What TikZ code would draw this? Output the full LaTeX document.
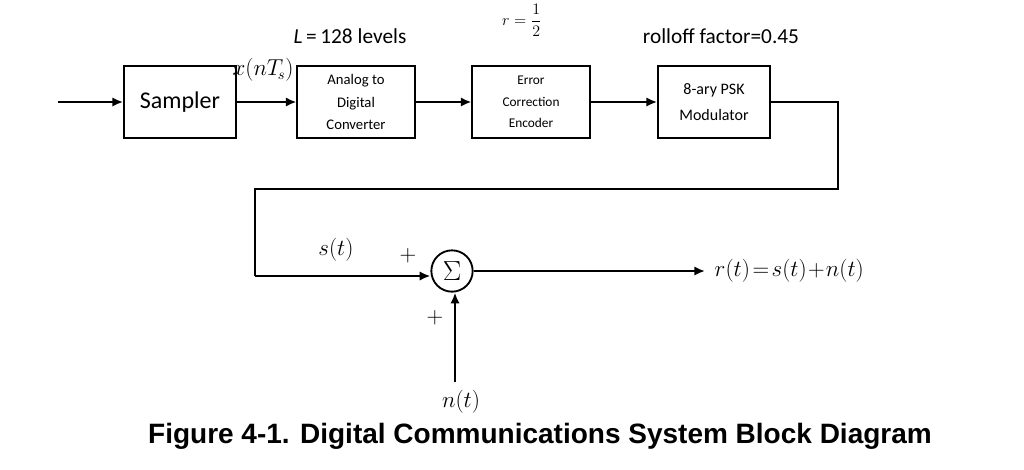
\documentclass[tikz,border=0pt]{standalone}
\usepackage{fontspec}
\setmainfont{Carlito}
\newfontfamily\arial{Liberation Sans}
\usetikzlibrary{arrows.meta}
\begin{document}
\begin{tikzpicture}[x=0.75pt,y=-0.75pt,
  blk/.style={draw,line width=1.3pt,inner sep=0pt},
  ln/.style={line width=1.6pt},
  ar/.style={ln,-{Latex[length=8pt,width=7pt]}}]
\useasboundingbox (0,0) rectangle (1024,469);
\node[blk,minimum width=84pt,minimum height=54pt] (smp) at (180,102) {\fontsize{18}{20}\selectfont Sampler};
\node[blk,minimum width=88pt,minimum height=54pt,align=center,font=\fontsize{11}{17}\selectfont] (adc) at (356,102) {Analog to\\Digital\\Converter};
\node[blk,minimum width=88pt,minimum height=54pt,align=center,font=\fontsize{10}{16}\selectfont] (ece) at (531,102) {Error\\Correction\\Encoder};
\node[blk,minimum width=84pt,minimum height=54pt,align=center,font=\fontsize{12}{19}\selectfont] (psk) at (714,102) {8-ary PSK\\Modulator};
\coordinate (in) at (58,102);
\draw[ar] (in) -- (smp);
\draw[ar] (smp) -- (adc);
\draw[ar] (adc) -- (ece);
\draw[ar] (ece) -- (psk);
\node[draw,circle,line width=1.4pt,minimum size=31pt,inner sep=0pt,font=\fontsize{20}{20}\selectfont] (sum) at (452,271) {$\Sigma$};
\coordinate (c1) at (838,102);
\coordinate (c2) at (838,189);
\coordinate (c3) at (255,189);
\coordinate (c4) at (255,276);
\draw[ln] (psk.east) -- (c1) -- (c2) -- (c3) -- (c4);
\draw[ar] (c4) -- (sum.west|-c4);
\coordinate (out) at (705,271);
\draw[ar] (sum) -- (out);
\coordinate (nb) at (455,382);
\draw[ar] (nb) -- (sum.south-|nb);
\node[font=\fontsize{16}{16}\selectfont,inner sep=0pt] at (263,70) {$x\big(nT_{\!s}\big)$};
\node[font=\fontsize{16}{18}\selectfont] at (350,36) {\textit{L}\,=\,128 levels};
\node[font=\fontsize{13}{13}\selectfont] at (522,20) {$r=\displaystyle\frac{1}{2}$};
\node[font=\fontsize{16}{18}\selectfont] at (721,36) {rolloff factor=0.45};
\node[font=\fontsize{17}{17}\selectfont] at (336,250) {$s(t)$};
\node[font=\fontsize{16}{16}\selectfont] at (408,256) {$+$};
\node[font=\fontsize{16}{16}\selectfont] at (435,318) {$+$};
\node[font=\fontsize{17}{17}\selectfont,anchor=west] at (710,271) {$r(t)\!=\!s(t)\!+\!n(t)$};
\node[font=\fontsize{17}{17}\selectfont] at (461,402) {$n(t)$};
\node[font=\arial\bfseries\fontsize{21}{24}\selectfont] at (540,436) {Figure 4-1. Digital Communications System Block Diagram};
\end{tikzpicture}
\end{document}
